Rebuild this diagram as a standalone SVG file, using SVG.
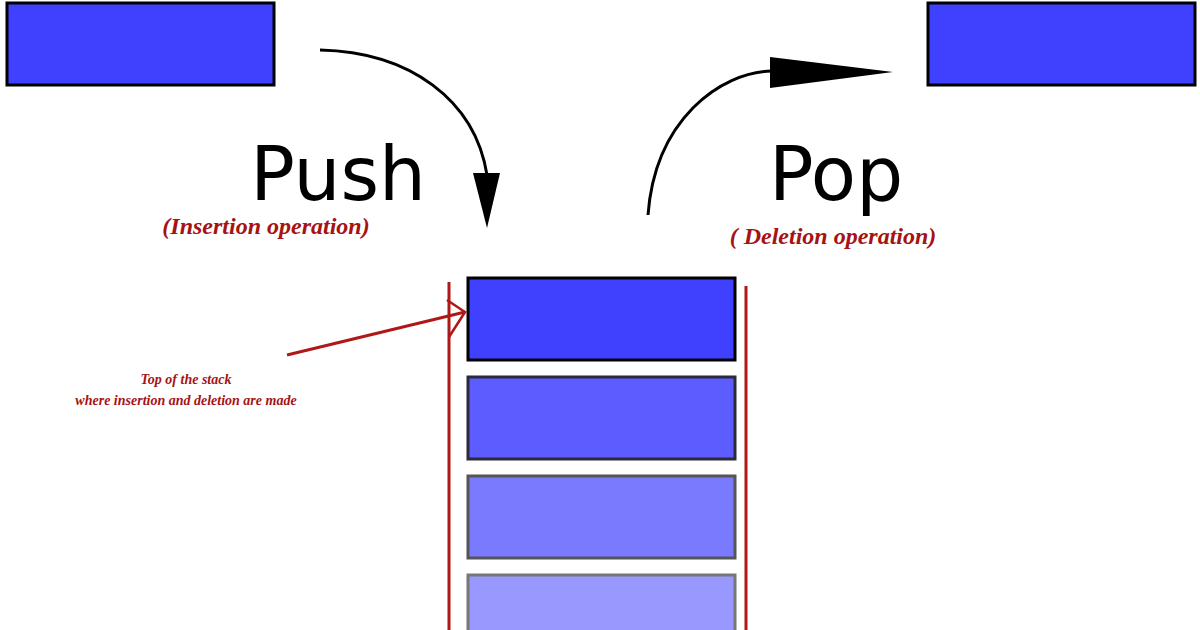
<svg xmlns="http://www.w3.org/2000/svg" width="1200" height="630" viewBox="0 0 1200 630">
<style>
.blk{stroke-width:3}
.red{fill:#a51313;font-family:"Liberation Serif",serif;font-weight:bold;font-style:italic}
.big{font-family:"DejaVu Sans",sans-serif;font-size:74px;fill:#000}
</style>
<defs>
<marker id="tri" viewBox="0 0 10 10" refX="9" refY="5" markerWidth="10" markerHeight="10" markerUnits="userSpaceOnUse" orient="auto"><path d="M0,0 L10,5 L0,10 Z" fill="#000"/></marker>
</defs>
<rect width="1200" height="630" fill="#fff"/>
<g id="in-box"><rect x="7" y="3" width="267" height="82" fill="#4040ff" stroke="#000" class="blk"/></g>
<g id="out-box"><rect x="928" y="3" width="267" height="82" fill="#4040ff" stroke="#000" class="blk"/></g>
<g id="stack">
<line x1="449" y1="282" x2="449" y2="630" stroke="#b01818" stroke-width="3"/>
<line x1="746" y1="286" x2="746" y2="630" stroke="#b01818" stroke-width="3"/>
<rect x="468" y="278" width="267" height="82" fill="#4040ff" stroke="#000" class="blk"/>
<rect x="468" y="377" width="267" height="82" fill="#5c5cff" stroke="#2a2a3a" class="blk"/>
<rect x="468" y="476" width="267" height="82" fill="#7a7aff" stroke="#555" class="blk"/>
<rect x="468" y="575" width="267" height="82" fill="#9898ff" stroke="#777" class="blk"/>
</g>
<g id="connectors">
<path d="M320,50 C410,52 475,100 487,175" fill="none" stroke="#000" stroke-width="3"/>
<path d="M473,173 L500,173 L487,228 Z" fill="#000"/>
<path d="M648,215 C655,120 720,72 772,71" fill="none" stroke="#000" stroke-width="3"/>
<path d="M770,57 L893,72 L770,88 Z" fill="#000"/>
<path d="M287,355 L465,312" stroke="#b01818" stroke-width="3" fill="none"/>
<path d="M447,300 L465,312 L449,337" stroke="#b01818" stroke-width="2.5" fill="none"/>
</g>
<g id="labels">
<text x="338" y="200" text-anchor="middle" class="big">Push</text>
<text x="836" y="200" text-anchor="middle" class="big">Pop</text>
<text x="266" y="234" text-anchor="middle" class="red" font-size="24">(Insertion operation)</text>
<text x="833" y="244" text-anchor="middle" class="red" font-size="24">( Deletion operation)</text>
<text x="186" y="384" text-anchor="middle" class="red" font-size="14">Top of the stack</text>
<text x="186" y="405" text-anchor="middle" class="red" font-size="14">where insertion and deletion are made</text>
</g>
</svg>
